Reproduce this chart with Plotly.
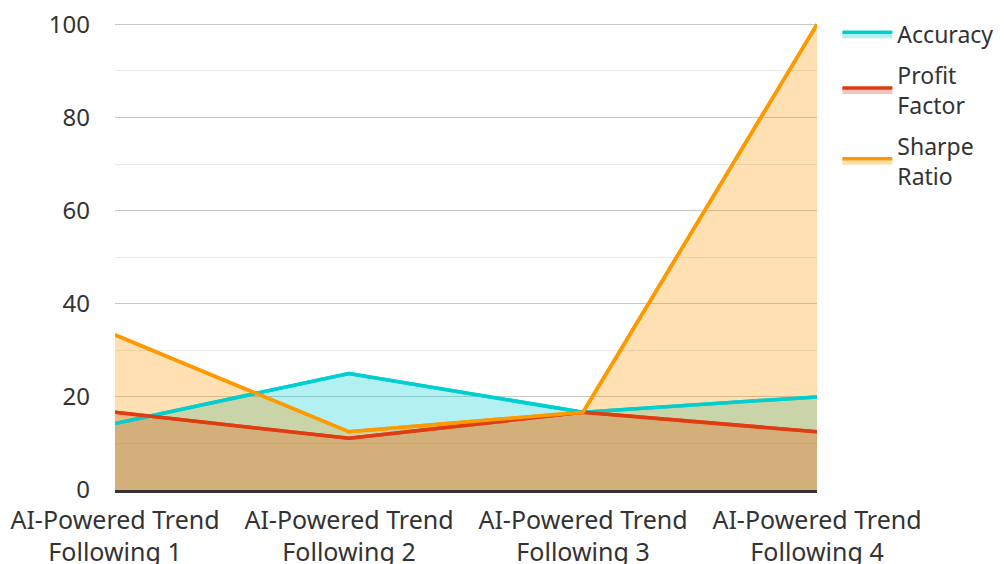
import plotly.graph_objects as go

categories = ["AI-Powered Trend<br>Following 1", "AI-Powered Trend<br>Following 2",
              "AI-Powered Trend<br>Following 3", "AI-Powered Trend<br>Following 4"]
accuracy = [14.3, 25.0, 16.7, 20.0]
profit_factor = [16.7, 11.1, 16.7, 12.5]
sharpe_ratio = [33.3, 12.5, 16.7, 100.0]
series_names = ["Accuracy", "Profit<br>Factor", "Sharpe<br>Ratio"]
y_ticks = [0, 20, 40, 60, 80, 100]

colors = ["#00cfd1", "#e03c14", "#ff9900"]
fills = ["rgba(0,206,209,0.3)", "rgba(224,60,20,0.3)", "rgba(255,153,0,0.3)"]
all_series = [accuracy, profit_factor, sharpe_ratio]

fig = go.Figure()
# filled areas (these carry the legend entries)
for i, (name, vals, c, f) in enumerate(zip(series_names, all_series, colors, fills)):
    fig.add_trace(go.Scatter(x=categories, y=vals, name=name, mode="lines",
                             legendgroup=f"g{i}",
                             line=dict(color=c, width=3.5), fill="tozeroy", fillcolor=f))
# lines drawn on top of every fill
for i, (name, vals, c) in enumerate(zip(series_names, all_series, colors)):
    fig.add_trace(go.Scatter(x=categories, y=vals, name=name, mode="lines",
                             legendgroup=f"g{i}", showlegend=False,
                             line=dict(color=c, width=3.5)))

# page body has an 8px margin: compensate so the plot lands where the reference has it
fig.update_layout(
    width=1004, height=564,
    margin=dict(l=107, r=195, t=15, b=82, autoexpand=False),
    paper_bgcolor="white", plot_bgcolor="white",
    font=dict(family="Noto Sans", size=25, color="#333333"),
    legend=dict(x=1.029, y=1.022, xanchor="left", yanchor="top",
                font=dict(size=23, color="#333333"), tracegroupgap=8,
                traceorder="grouped", itemwidth=50),
    showlegend=True,
)
fig.update_xaxes(type="category", range=[0, 3], showgrid=False, showline=True,
                 linecolor="#333333", linewidth=2.5, ticks="", zeroline=False,
                 automargin=False, ticklabelstandoff=6)
fig.update_yaxes(range=[0, 100.3], tickvals=y_ticks, showgrid=True, gridcolor="#c8c8c8",
                 gridwidth=1, zeroline=False, showline=False, ticklabelstandoff=24,
                 automargin=False, ticklabeloverflow="allow", tickfont=dict(size=24),
                 minor=dict(dtick=10, tick0=0, showgrid=True, gridcolor="#e8e8e8", gridwidth=1))

fig.write_html("out.html")
